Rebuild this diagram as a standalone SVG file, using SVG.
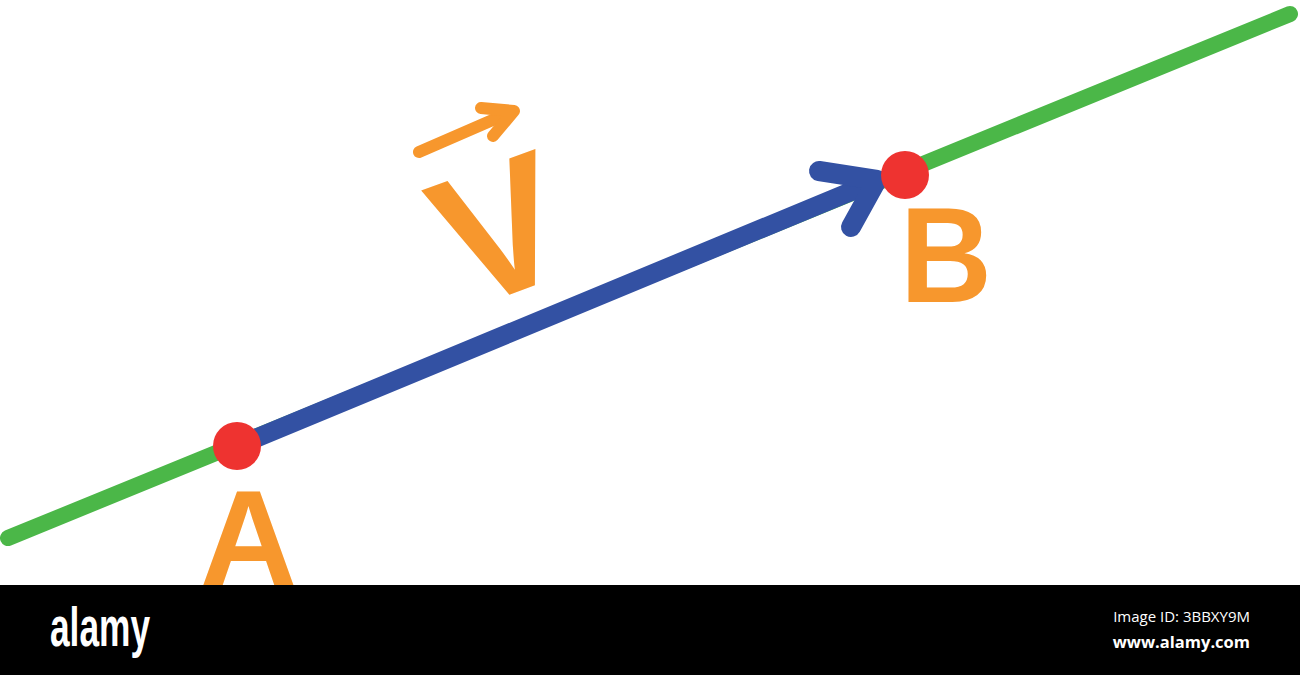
<svg xmlns="http://www.w3.org/2000/svg" width="1300" height="675" viewBox="0 0 1300 675">
  <style>
    .lbl { font-family: "Liberation Sans", Arial, sans-serif; font-weight: bold; fill: #f7972d; }
    .pt { fill: #ee3330; }
    .blue { stroke: #3351a3; fill: none; stroke-linecap: round; stroke-linejoin: round; }
    .orange { stroke: #f7972d; fill: none; stroke-linecap: round; stroke-linejoin: round; }
  </style>
  <rect x="0" y="0" width="1300" height="675" fill="#ffffff"/>
  <g id="connectors">
    <line id="line-AB" x1="8" y1="538" x2="1290" y2="14" stroke="#4bb748" stroke-width="16" stroke-linecap="round"/>
    <g id="vector-AB">
      <line class="blue" x1="237" y1="446" x2="874" y2="182" stroke-width="19"/>
      <polyline class="blue" points="819,171 877,180 851,227" stroke-width="20"/>
    </g>
  </g>
  <g id="node-V">
    <text class="lbl" transform="translate(499,227) rotate(-20)" x="0" y="67" text-anchor="middle" font-size="186">V</text>
    <line class="orange" x1="419" y1="152" x2="511" y2="112" stroke-width="12"/>
    <polyline class="orange" points="481,108 514,111 493,136" stroke-width="12"/>
  </g>
  <g id="node-A">
    <circle class="pt" cx="237" cy="446" r="24"/>
    <text class="lbl" x="200" y="585" font-size="136" textLength="97" lengthAdjust="spacingAndGlyphs">A</text>
  </g>
  <g id="node-B">
    <circle class="pt" cx="905" cy="175" r="24"/>
    <text class="lbl" x="900" y="302" font-size="135" textLength="92" lengthAdjust="spacingAndGlyphs">B</text>
  </g>
  <g id="footer">
    <rect x="0" y="585" width="1300" height="90" fill="#000000"/>
    <text x="50" y="646" font-family="'Liberation Sans Narrow', 'Liberation Sans', Arial, sans-serif" font-weight="bold" font-size="56" fill="#ffffff" textLength="100" lengthAdjust="spacingAndGlyphs">alamy</text>
    <text x="1250" y="622" text-anchor="end" font-family="'Open Sans', 'DejaVu Sans', sans-serif" font-size="15" fill="#ffffff">Image ID: 3BBXY9M</text>
    <text x="1250" y="648" text-anchor="end" font-family="'Open Sans', 'DejaVu Sans', sans-serif" font-weight="bold" font-size="16.5" fill="#ffffff">www.alamy.com</text>
  </g>
</svg>
